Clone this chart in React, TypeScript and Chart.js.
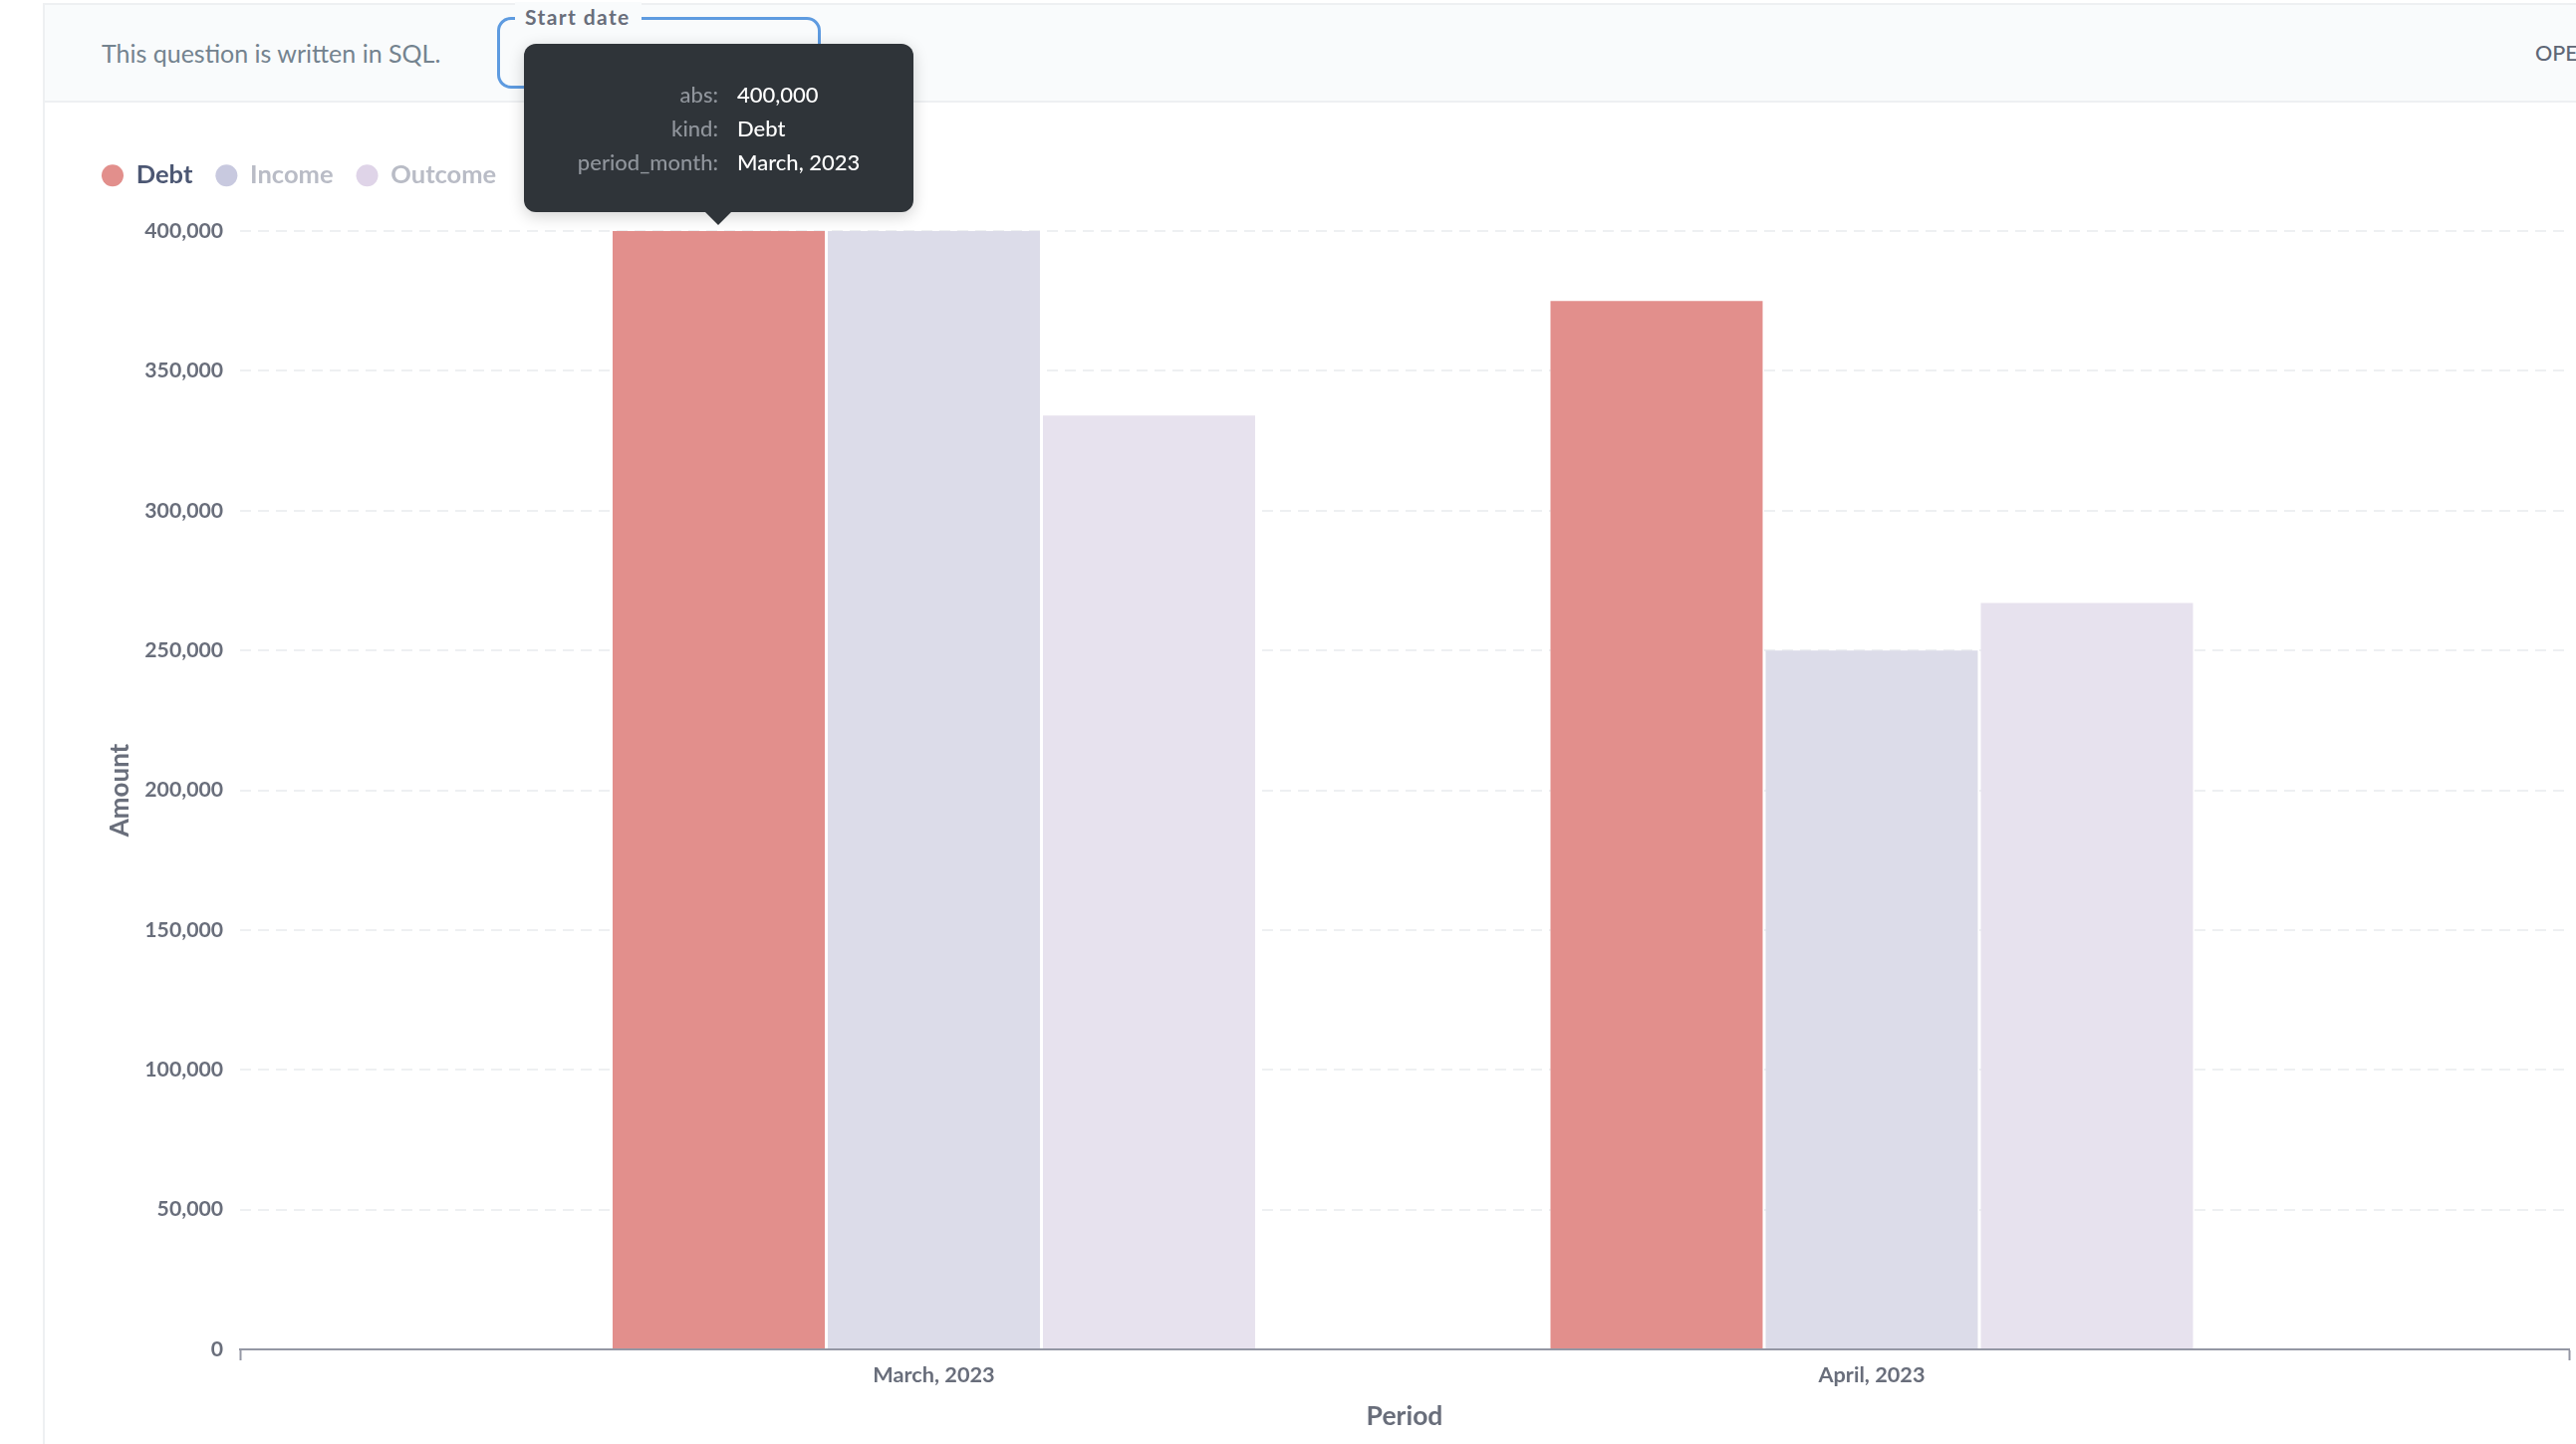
import React, { useEffect, useRef } from 'react';
import Chart from 'chart.js/auto';

const monthLabels = ['March, 2023', 'April, 2023'];
const monthPositions = [0, 1];
const axisStart = -0.7398;
const axisEnd = 1.7435;

const debt = [400000, 375000];
const income = [400000, 250000];
const outcome = [334000, 267000];

const seriesNames = ['Debt', 'Income', 'Outcome'];
const barColors = ['#E28F8C', '#DCDCE9', '#E7E2EE'];
const legendDots = ['#E28F8C', '#C8C9DF', '#DFD4E8'];
const legendText = ['#4C5773', '#B9BCC6', '#B9BCC6'];

const tooltipRows = [
  ['abs:', '400,000'],
  ['kind:', 'Debt'],
  ['period_month:', 'March, 2023'],
];

const FONT = 'Lato';
const TICK_COLOR = '#696E7B';

// extra room under the legend so the plot starts at the right height
const legendGap = {
  id: 'legendGap',
  beforeInit(chart: any) {
    const fit = chart.legend.fit;
    chart.legend.fit = function () {
      fit.call(this);
      this.height += 33;
    };
  },
};

const App: React.FC = () => {
  const chartRef = useRef<HTMLCanvasElement>(null);

  useEffect(() => {
    document.body.style.margin = '0';
    if (!chartRef.current) return;
    const series = [debt, income, outcome];
    const chart = new Chart(chartRef.current, {
      type: 'bar',
      data: {
        labels: monthPositions,
        datasets: series.map((values, i) => ({
          label: seriesNames[i],
          data: values,
          backgroundColor: barColors[i],
          borderWidth: 0,
          categoryPercentage: 0.9304,
          barPercentage: 0.986,
        })),
      },
      options: {
        responsive: false,
        animation: false,
        events: [],
        layout: { padding: { top: 140.5, left: 79, right: 7, bottom: 0 } },
        plugins: {
          tooltip: { enabled: false },
          legend: {
            display: true,
            position: 'top',
            align: 'start',
            labels: {
              usePointStyle: true,
              boxWidth: 22,
              boxHeight: 15.5,
              pointStyleWidth: 22,
              padding: 23,
              font: { family: FONT, size: 25.5, weight: 700 },
              generateLabels: () =>
                seriesNames.map((name, i) => ({
                  text: name,
                  fillStyle: legendDots[i],
                  strokeStyle: legendDots[i],
                  fontColor: legendText[i],
                  lineWidth: 0,
                  pointStyle: 'circle',
                  hidden: false,
                  datasetIndex: i,
                })),
            },
          },
        },
        scales: {
          x: {
            type: 'linear',
            min: axisStart,
            max: axisEnd,
            offset: false,
            afterFit: (scale: any) => {
              scale.height = 95;
            },
            afterBuildTicks: (scale: any) => {
              scale.ticks = [axisStart, ...monthPositions, axisEnd].map((value) => ({ value }));
            },
            grid: {
              offset: false,
              drawOnChartArea: false,
              drawTicks: true,
              tickLength: 11,
              tickWidth: 2,
              tickColor: (ctx: any) =>
                monthPositions.includes(ctx.tick?.value) ? 'transparent' : '#9497A4',
            },
            border: { display: true, color: '#9497A4', width: 2, z: 1 },
            ticks: {
              autoSkip: false,
              maxRotation: 0,
              padding: 2,
              color: TICK_COLOR,
              font: { family: FONT, size: 21.7, weight: 700 },
              callback: (value: any) => {
                const i = monthPositions.indexOf(value);
                return i >= 0 ? monthLabels[i] : '';
              },
            },
            title: {
              display: true,
              text: 'Period',
              color: TICK_COLOR,
              padding: { top: 0, bottom: 11.6 },
              font: { family: FONT, size: 26.5, weight: 700 },
            },
          },
          y: {
            min: 0,
            max: 400000,
            afterFit: (scale: any) => {
              scale.width = 162;
            },
            grid: { color: '#EEF0F2', lineWidth: 2, drawTicks: false },
            border: { display: false, dash: [11, 7] },
            ticks: {
              stepSize: 50000,
              padding: 17,
              color: TICK_COLOR,
              font: { family: FONT, size: 21.2, weight: 700 },
              callback: (value: any) => Number(value).toLocaleString('en-US'),
            },
            title: {
              display: true,
              text: 'Amount',
              color: TICK_COLOR,
              padding: { top: 26, bottom: 0 },
              font: { family: FONT, size: 26, weight: 700 },
            },
          },
        },
      },
      plugins: [legendGap],
    } as any);
    return () => chart.destroy();
  }, []);

  const abs: React.CSSProperties = { position: 'absolute' };

  return (
    <div style={{ ...abs, left: 0, top: 0, width: 2586, height: 1450, overflow: 'hidden', background: '#fff', fontFamily: FONT }}>
      {/* top bar and page edges */}
      <div style={{ ...abs, left: 44, top: 3, right: 0, height: 100, background: '#F9FBFC', borderBottom: '2px solid #EEF0F2', borderTop: '2px solid #EEF0F2', boxSizing: 'border-box' }} />
      <div style={{ ...abs, left: 43, top: 3, width: 2, bottom: 0, background: '#EEF0F2' }} />
      <div style={{ ...abs, left: 102, top: 35, fontSize: 25, lineHeight: '36px', color: '#74838F' }}>This question is written in SQL.</div>
      <div style={{ ...abs, left: 499, top: 17, width: 325, height: 72, boxSizing: 'border-box', border: '3px solid #5E9BE0', borderRadius: 14 }} />
      <div style={{ ...abs, left: 517, top: 2, padding: '0 11px 0 10px', background: '#F9FBFC', fontSize: 21, lineHeight: '30px', fontWeight: 700, letterSpacing: 1.4, color: '#696E7B' }}>Start date</div>
      <div style={{ ...abs, left: 2545, top: 38, fontSize: 21.5, lineHeight: '30px', fontWeight: 500, color: '#5F6776', whiteSpace: 'nowrap' }}>OPEN EDITOR</div>

      <canvas ref={chartRef} width={2586} height={1450} style={{ ...abs, left: 0, top: 0 }} />

      {/* hover tooltip over the first Debt bar */}
      <div style={{ ...abs, left: 526, top: 44, width: 391, height: 169, background: '#2F3439', borderRadius: 12, boxShadow: '0 4px 16px rgba(0,0,0,0.18)' }}>
        {tooltipRows.map(([key, value], i) => (
          <div key={key} style={{ ...abs, left: 0, top: 34 + i * 34, width: '100%', height: 34, fontSize: 22, lineHeight: '34px', fontWeight: 500 }}>
            <span style={{ ...abs, right: 196, color: '#90959C', whiteSpace: 'nowrap' }}>{key}</span>
            <span style={{ ...abs, left: 214, color: '#FFFFFF', whiteSpace: 'nowrap' }}>{value}</span>
          </div>
        ))}
      </div>
      <div style={{ ...abs, left: 708, top: 213, width: 0, height: 0, borderLeft: '13px solid transparent', borderRight: '13px solid transparent', borderTop: '13px solid #2F3439' }} />
    </div>
  );
};

export default App;
